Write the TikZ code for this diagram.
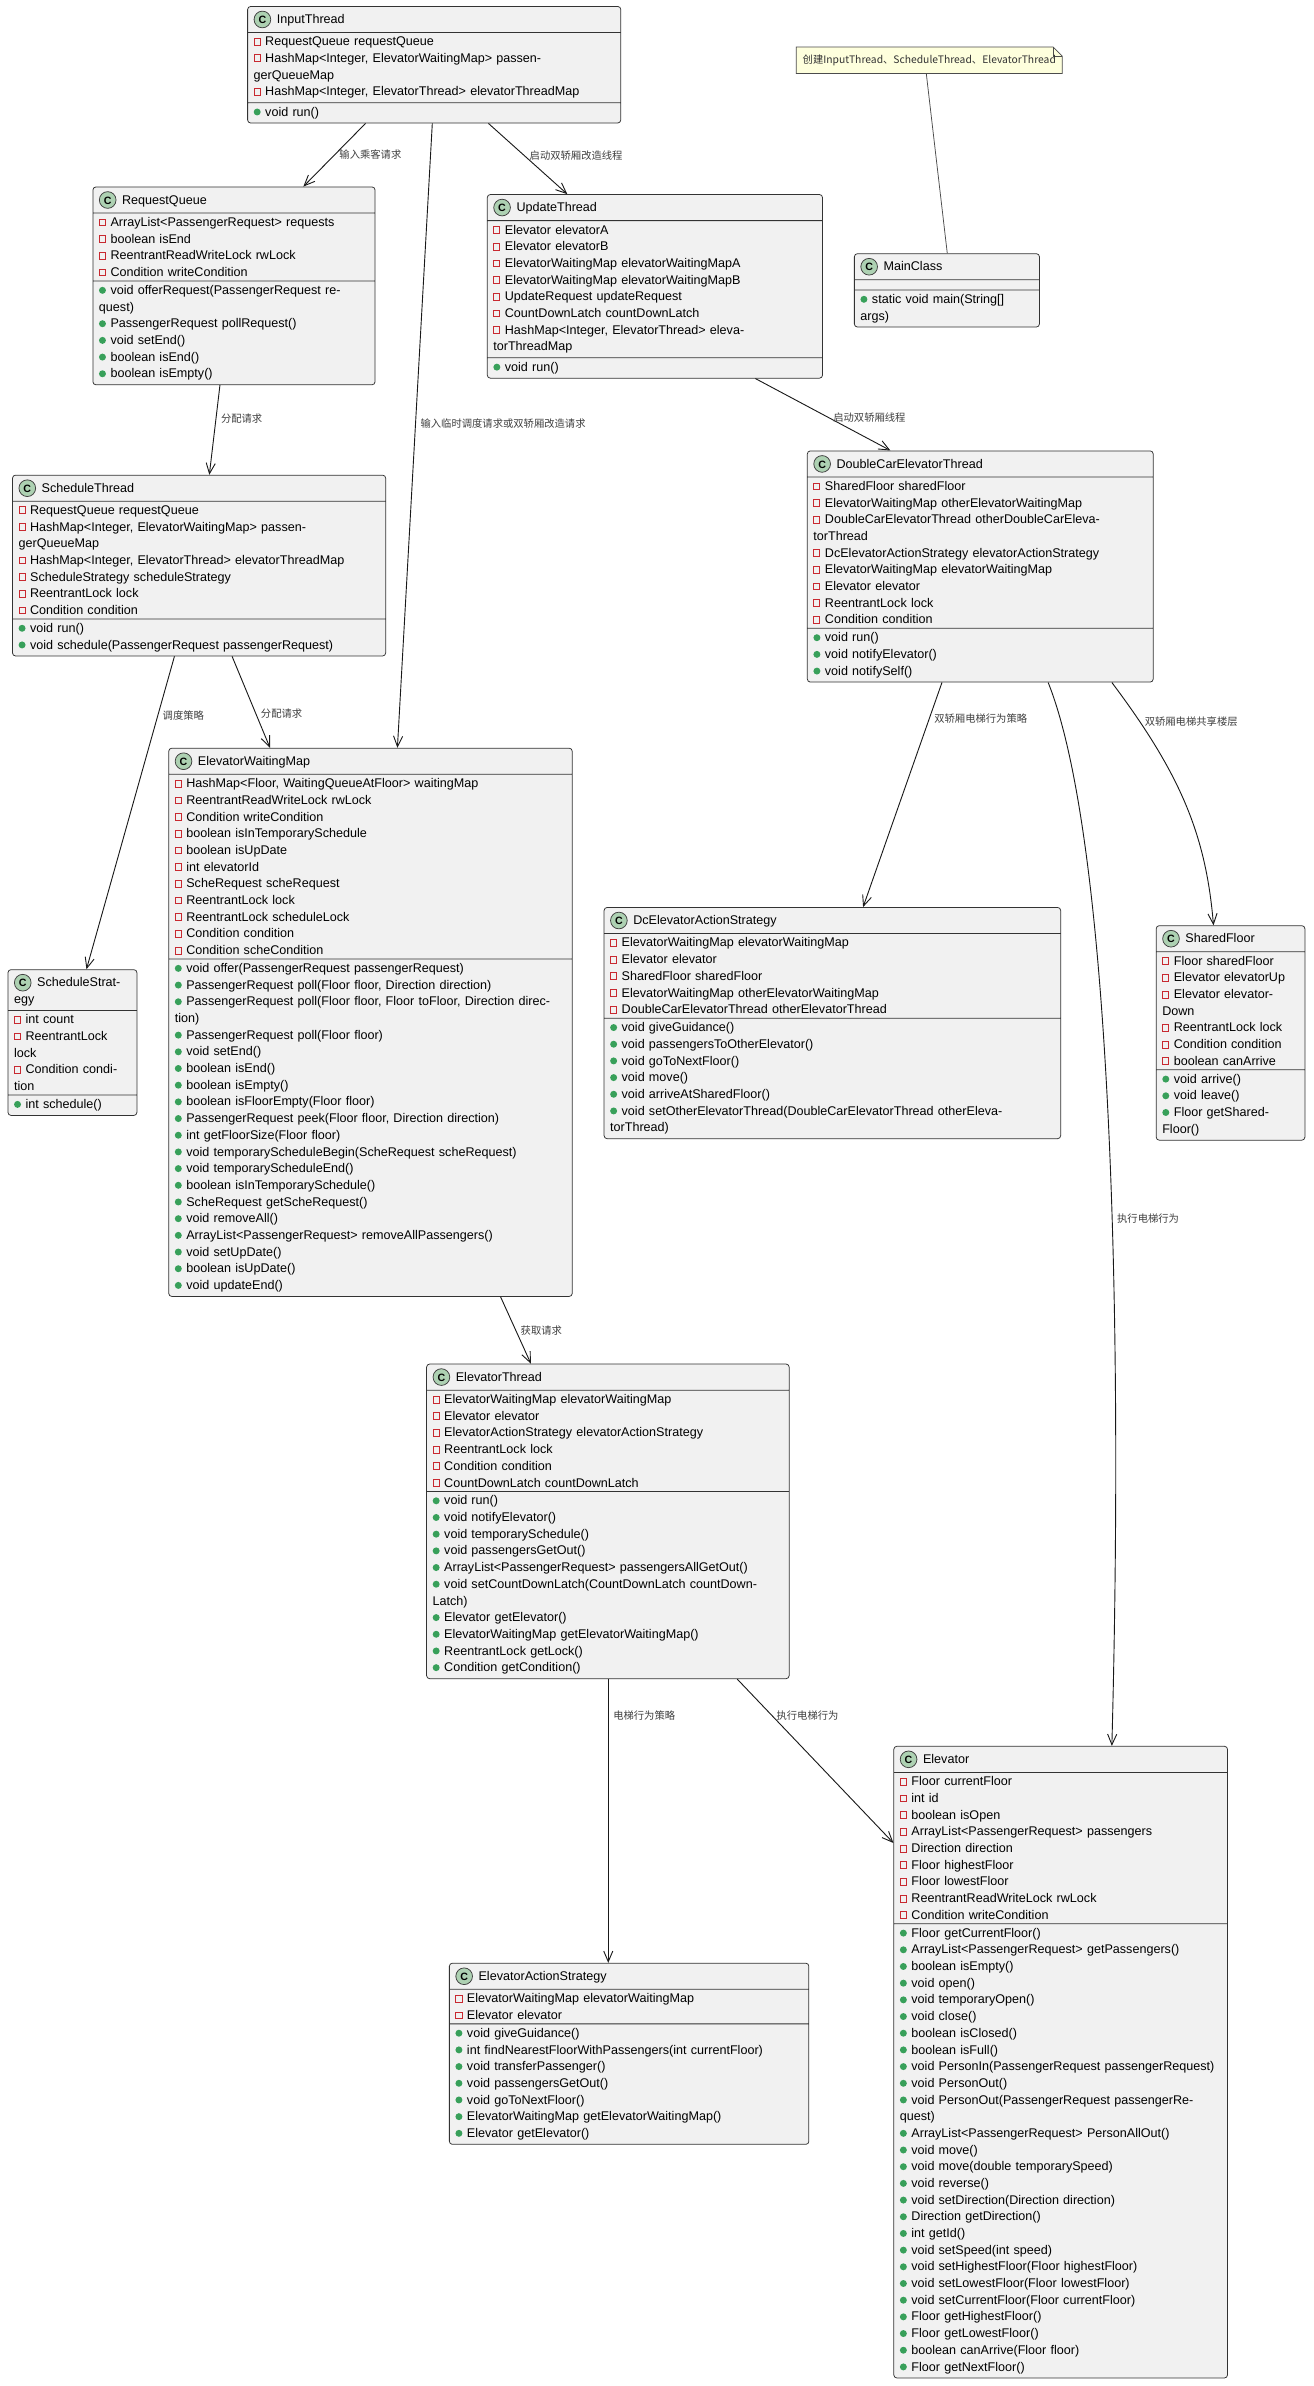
\documentclass[tikz,border=0pt]{standalone}
\usepackage{fontspec}
\setmainfont{Liberation Sans}
\newfontfamily\cjk{Noto Sans CJK SC}
\usetikzlibrary{shapes.multipart,arrows.meta,calc}
\definecolor{clsfill}{HTML}{F1F1F1}
\definecolor{iconfill}{HTML}{ADD1B2}
\definecolor{privred}{HTML}{C82930}
\definecolor{pubgreen}{HTML}{38A05A}
\definecolor{notefill}{HTML}{FEFFDD}
\newcommand\cic{\tikz[baseline=-2.7pt]{\filldraw[fill=iconfill,draw=black!75,line width=0.5pt,sharp corners] (0pt,0pt) circle (5.5pt);}\hspace{-8.3pt}{\fontsize{7}{7}\selectfont\bfseries C}\hspace{7pt}}
\newcommand\pv{\tikz[baseline=0pt]{\draw[draw=privred,line width=0.6pt,fill=none,sharp corners] (0.3pt,0.4pt) rectangle (4.3pt,4.9pt);}\hspace{3pt}}
\newcommand\pb{\tikz[baseline=0pt]{\fill[pubgreen,sharp corners] (2.3pt,2.7pt) circle (2.3pt);}\hspace{3pt}}
\tikzset{
 cls/.style={draw=black!80, fill=clsfill, rounded corners=2pt, rectangle split, rectangle split parts=3,
   anchor=north west, inner xsep=4pt, inner ysep=2.6pt, font=\fontsize{8.3}{11}\selectfont, align=left, line width=0.5pt},
 arr/.style={draw=black!90, line width=0.6pt, -{Straight Barb[length=7pt,width=6pt]}},
 lbl/.style={anchor=west, font=\cjk\fontsize{6.8}{8}\selectfont, text=black!75, inner sep=1pt, xshift=2pt},
}
\begin{document}
\begin{tikzpicture}[x=1pt,y=-1pt]
\useasboundingbox (0,0) rectangle (866,1573);
\fill[white] (0,0) rectangle (866,1573);

\node[cls,text width=238pt] (inp) at (163,4) {\centering\cic InputThread
\nodepart{two}\pv RequestQueue requestQueue\\\pv HashMap<Integer, ElevatorWaitingMap> passengerQueueMap\\\pv HashMap<Integer, ElevatorThread> elevatorThreadMap
\nodepart{three}\pb void run()};

\node[cls,text width=178pt] (rq) at (61,123) {\centering\cic RequestQueue
\nodepart{two}\pv ArrayList<PassengerRequest> requests\\\pv boolean isEnd\\\pv ReentrantReadWriteLock rwLock\\\pv Condition writeCondition
\nodepart{three}\pb void offerRequest(PassengerRequest request)\\\pb PassengerRequest pollRequest()\\\pb void setEnd()\\\pb boolean isEnd()\\\pb boolean isEmpty()};

\node[cls,text width=213pt] (up) at (321,128) {\centering\cic UpdateThread
\nodepart{two}\pv Elevator elevatorA\\\pv Elevator elevatorB\\\pv ElevatorWaitingMap elevatorWaitingMapA\\\pv ElevatorWaitingMap elevatorWaitingMapB\\\pv UpdateRequest updateRequest\\\pv CountDownLatch countDownLatch\\\pv HashMap<Integer, ElevatorThread> elevatorThreadMap
\nodepart{three}\pb void run()};

\node[cls,text width=114pt] (mc) at (563,167) {\centering\cic MainClass
\nodepart{two}\rule{0pt}{1pt}
\nodepart{three}\pb static void main(String[] args)};

\node[anchor=north west, font=\cjk\fontsize{6.8}{8}\selectfont, text=black!80, inner xsep=4pt, inner ysep=0pt, minimum height=17pt, text depth=0pt] (note) at (525,31) {创建InputThread、ScheduleThread、ElevatorThread};
\draw[draw=black!70, fill=notefill, line width=0.5pt] (note.north west) -- ([xshift=-6pt]note.north east) -- ([yshift=-6pt]note.north east) -- (note.south east) -- (note.south west) -- cycle;
\draw[draw=black!70, line width=0.5pt] ([xshift=-6pt]note.north east) -- ([xshift=-6pt,yshift=-6pt]note.north east) -- ([yshift=-6pt]note.north east);
\node[anchor=north west, font=\cjk\fontsize{6.8}{8}\selectfont, text=black!80, inner xsep=4pt, inner ysep=0pt, minimum height=17pt] at (note.north west) {创建InputThread、ScheduleThread、ElevatorThread};
\draw[draw=black!70, line width=0.5pt] ([xshift=-2pt]note.south) -- ([xshift=-61pt]mc.north east);

\node[cls,text width=238pt] (st) at (8,313) {\centering\cic ScheduleThread
\nodepart{two}\pv RequestQueue requestQueue\\\pv HashMap<Integer, ElevatorWaitingMap> passengerQueueMap\\\pv HashMap<Integer, ElevatorThread> elevatorThreadMap\\\pv ScheduleStrategy scheduleStrategy\\\pv ReentrantLock lock\\\pv Condition condition
\nodepart{three}\pb void run()\\\pb void schedule(PassengerRequest passengerRequest)};

\node[cls,text width=220pt] (dc) at (532,297) {\centering\cic DoubleCarElevatorThread
\nodepart{two}\pv SharedFloor sharedFloor\\\pv ElevatorWaitingMap otherElevatorWaitingMap\\\pv DoubleCarElevatorThread otherDoubleCarElevatorThread\\\pv DcElevatorActionStrategy elevatorActionStrategy\\\pv ElevatorWaitingMap elevatorWaitingMap\\\pv Elevator elevator\\\pv ReentrantLock lock\\\pv Condition condition
\nodepart{three}\pb void run()\\\pb void notifyElevator()\\\pb void notifySelf()};

\node[cls,text width=258pt] (ewm) at (111,493) {\centering\cic ElevatorWaitingMap
\nodepart{two}\pv HashMap<Floor, WaitingQueueAtFloor> waitingMap\\\pv ReentrantReadWriteLock rwLock\\\pv Condition writeCondition\\\pv boolean isInTemporarySchedule\\\pv boolean isUpDate\\\pv int elevatorId\\\pv ScheRequest scheRequest\\\pv ReentrantLock lock\\\pv ReentrantLock scheduleLock\\\pv Condition condition\\\pv Condition scheCondition
\nodepart{three}\pb void offer(PassengerRequest passengerRequest)\\\pb PassengerRequest poll(Floor floor, Direction direction)\\\pb PassengerRequest poll(Floor floor, Floor toFloor, Direction direction)\\\pb PassengerRequest poll(Floor floor)\\\pb void setEnd()\\\pb boolean isEnd()\\\pb boolean isEmpty()\\\pb boolean isFloorEmpty(Floor floor)\\\pb PassengerRequest peek(Floor floor, Direction direction)\\\pb int getFloorSize(Floor floor)\\\pb void temporaryScheduleBegin(ScheRequest scheRequest)\\\pb void temporaryScheduleEnd()\\\pb boolean isInTemporarySchedule()\\\pb ScheRequest getScheRequest()\\\pb void removeAll()\\\pb ArrayList<PassengerRequest> removeAllPassengers()\\\pb void setUpDate()\\\pb boolean isUpDate()\\\pb void updateEnd()};

\node[cls,text width=293pt] (dcs) at (398,598) {\centering\cic DcElevatorActionStrategy
\nodepart{two}\pv ElevatorWaitingMap elevatorWaitingMap\\\pv Elevator elevator\\\pv SharedFloor sharedFloor\\\pv ElevatorWaitingMap otherElevatorWaitingMap\\\pv DoubleCarElevatorThread otherElevatorThread
\nodepart{three}\pb void giveGuidance()\\\pb void passengersToOtherElevator()\\\pb void goToNextFloor()\\\pb void move()\\\pb void arriveAtSharedFloor()\\\pb void setOtherElevatorThread(DoubleCarElevatorThread otherElevatorThread)};

\node[cls,text width=90pt] (sf) at (762,610) {\centering\cic SharedFloor
\nodepart{two}\pv Floor sharedFloor\\\pv Elevator elevatorUp\\\pv Elevator elevatorDown\\\pv ReentrantLock lock\\\pv Condition condition\\\pv boolean canArrive
\nodepart{three}\pb void arrive()\\\pb void leave()\\\pb Floor getSharedFloor()};

\node[cls,text width=77pt] (ss) at (5,639) {\centering\cic ScheduleStrategy
\nodepart{two}\pv int count\\\pv ReentrantLock lock\\\pv Condition condition
\nodepart{three}\pb int schedule()};

\node[cls,text width=231pt] (et) at (281,899) {\centering\cic ElevatorThread
\nodepart{two}\pv ElevatorWaitingMap elevatorWaitingMap\\\pv Elevator elevator\\\pv ElevatorActionStrategy elevatorActionStrategy\\\pv ReentrantLock lock\\\pv Condition condition\\\pv CountDownLatch countDownLatch
\nodepart{three}\pb void run()\\\pb void notifyElevator()\\\pb void temporarySchedule()\\\pb void passengersGetOut()\\\pb ArrayList<PassengerRequest> passengersAllGetOut()\\\pb void setCountDownLatch(CountDownLatch countDownLatch)\\\pb Elevator getElevator()\\\pb ElevatorWaitingMap getElevatorWaitingMap()\\\pb ReentrantLock getLock()\\\pb Condition getCondition()};

\node[cls,text width=212pt] (el) at (589,1151) {\centering\cic Elevator
\nodepart{two}\pv Floor currentFloor\\\pv int id\\\pv boolean isOpen\\\pv ArrayList<PassengerRequest> passengers\\\pv Direction direction\\\pv Floor highestFloor\\\pv Floor lowestFloor\\\pv ReentrantReadWriteLock rwLock\\\pv Condition writeCondition
\nodepart{three}\pb Floor getCurrentFloor()\\\pb ArrayList<PassengerRequest> getPassengers()\\\pb boolean isEmpty()\\\pb void open()\\\pb void temporaryOpen()\\\pb void close()\\\pb boolean isClosed()\\\pb boolean isFull()\\\pb void PersonIn(PassengerRequest passengerRequest)\\\pb void PersonOut()\\\pb void PersonOut(PassengerRequest passengerRequest)\\\pb ArrayList<PassengerRequest> PersonAllOut()\\\pb void move()\\\pb void move(double temporarySpeed)\\\pb void reverse()\\\pb void setDirection(Direction direction)\\\pb Direction getDirection()\\\pb int getId()\\\pb void setSpeed(int speed)\\\pb void setHighestFloor(Floor highestFloor)\\\pb void setLowestFloor(Floor lowestFloor)\\\pb void setCurrentFloor(Floor currentFloor)\\\pb Floor getHighestFloor()\\\pb Floor getLowestFloor()\\\pb boolean canArrive(Floor floor)\\\pb Floor getNextFloor()};

\node[cls,text width=229pt] (eas) at (296,1294) {\centering\cic ElevatorActionStrategy
\nodepart{two}\pv ElevatorWaitingMap elevatorWaitingMap\\\pv Elevator elevator
\nodepart{three}\pb void giveGuidance()\\\pb int findNearestFloorWithPassengers(int currentFloor)\\\pb void transferPassenger()\\\pb void passengersGetOut()\\\pb void goToNextFloor()\\\pb ElevatorWaitingMap getElevatorWaitingMap()\\\pb Elevator getElevator()};

% connectors
\draw[arr] ([xshift=78pt]inp.south west) -- node[lbl,pos=.5]{输入乘客请求} ([xshift=139pt]rq.north west);
\draw[arr] ([xshift=159pt]inp.south west) -- node[lbl,pos=.46]{启动双轿厢改造线程} ([xshift=53pt]up.north west);
\draw[arr] ([xshift=122pt]inp.south west) -- node[lbl,pos=.48]{输入临时调度请求或双轿厢改造请求} ([xshift=151pt]ewm.north west);
\draw[arr] ([xshift=84pt]rq.south west) -- node[lbl,pos=.37]{分配请求} ([xshift=130pt]st.north west);
\draw[arr] ([xshift=177pt]up.south west) -- node[lbl,pos=.54]{启动双轿厢线程} ([xshift=55pt]dc.north west);
\draw[arr] ([xshift=107pt]st.south west) -- node[lbl,pos=.19]{调度策略} ([xshift=52pt]ss.north west);
\draw[arr] ([xshift=145pt]st.south west) -- node[lbl,pos=.63]{分配请求} ([xshift=67pt]ewm.north west);
\draw[arr] ([xshift=89pt]dc.south west) -- node[lbl,pos=.16]{双轿厢电梯行为策略} ([xshift=171pt]dcs.north west);
\draw[arr] ([xshift=201pt]dc.south west) .. controls +(45,60) and +(-5,-60) .. node[lbl,pos=.15]{双轿厢电梯共享楼层} ([xshift=38pt]sf.north west);
\draw[arr] ([xshift=159pt]dc.south west) .. controls +(40,100) and +(8,-300) .. node[lbl,pos=.6]{执行电梯行为} ([xshift=144pt]el.north west);
\draw[arr] ([xshift=219pt]ewm.south west) -- node[lbl,pos=.5]{获取请求} ([xshift=69pt]et.north west);
\draw[arr] ([xshift=120pt]et.south west) -- node[lbl,pos=.13]{电梯行为策略} ([xshift=105pt]eas.north west);
\draw[arr] ([xshift=205pt]et.south west) -- node[lbl,pos=.22]{执行电梯行为} ([yshift=-64pt]el.north west);
\end{tikzpicture}
\end{document}
